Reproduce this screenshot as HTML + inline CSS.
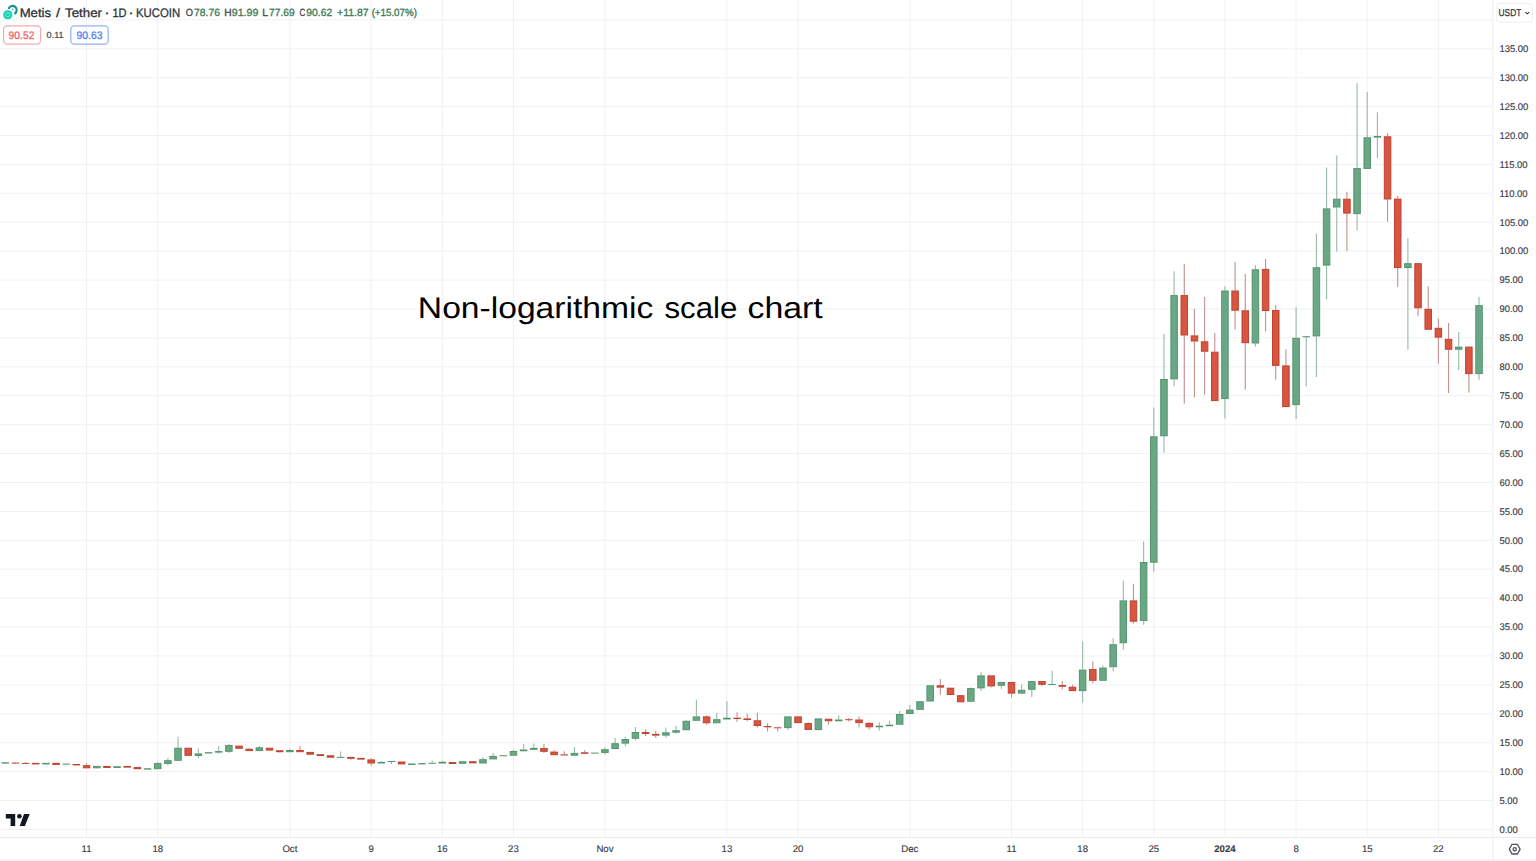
<!DOCTYPE html>
<html><head><meta charset="utf-8"><style>
html,body{margin:0;padding:0;background:#fff;}
body{width:1536px;height:861px;overflow:hidden;position:relative;font-family:"Liberation Sans",sans-serif;}
svg{position:absolute;left:0;top:0;}
</style></head><body>
<svg width="1536" height="861" viewBox="0 0 1536 861" font-family="Liberation Sans, sans-serif" text-rendering="geometricPrecision">
<path d="M0 829.40H1492M0 800.49H1492M0 771.58H1492M0 742.67H1492M0 713.76H1492M0 684.85H1492M0 655.93H1492M0 627.02H1492M0 598.11H1492M0 569.20H1492M0 540.29H1492M0 511.38H1492M0 482.47H1492M0 453.56H1492M0 424.65H1492M0 395.74H1492M0 366.82H1492M0 337.91H1492M0 309.00H1492M0 280.09H1492M0 251.18H1492M0 222.27H1492M0 193.36H1492M0 164.45H1492M0 135.54H1492M0 106.62H1492M0 77.71H1492M0 48.80H1492M0 19.89H1492M86.57 0V837M157.72 0V837M289.85 0V837M371.16 0V837M442.31 0V837M513.46 0V837M604.94 0V837M726.90 0V837M798.05 0V837M909.86 0V837M1011.50 0V837M1082.64 0V837M1153.79 0V837M1224.94 0V837M1296.09 0V837M1367.24 0V837M1438.38 0V837" stroke="#f0f1f3" stroke-width="1" fill="none"/>
<rect x="1492.3" y="0" width="1.1" height="861" fill="#eeeff1"/>
<rect x="0" y="837" width="1536" height="1" fill="#eaebed"/>
<rect x="0" y="859.3" width="1536" height="1.7" fill="#f2f3f7"/>
<path d="M5.26 761.90V762.30M5.26 763.60V764.00M157.72 761.70V763.10M167.88 757.90V760.20M167.88 763.90V765.40M178.05 736.80V747.70M198.38 748.50V753.40M198.38 756.00V757.90M218.70 746.10V751.10M218.70 752.60V753.75M228.87 743.75V745.10M228.87 751.80V753.10M259.36 746.10V747.30M289.85 749.00V750.00M340.67 751.40V756.90M381.33 761.00V762.00M391.49 761.80V763.90M432.15 760.40V762.80M442.31 760.70V761.80M482.97 757.30V759.20M493.13 753.10V755.90M513.46 749.80V751.00M523.62 744.00V749.50M533.79 743.50V747.90M574.44 746.90V752.90M604.94 747.20V749.20M604.94 752.90V754.80M615.10 737.90V743.20M625.26 736.70V739.00M625.26 743.60V746.25M635.43 727.10V732.00M635.43 738.75V740.30M665.92 727.50V732.30M665.92 735.60V737.50M676.08 725.70V730.20M676.08 732.70V733.75M686.25 720.00V720.80M696.41 699.70V716.40M716.74 712.90V719.20M726.90 701.25V717.70M787.89 728.10V729.90M838.71 715.30V719.50M879.36 722.30V725.70M879.36 727.30V730.40M889.53 720.80V724.70M899.69 711.10V714.00M909.86 705.10V709.60M970.84 687.40V688.10M981.00 672.30V675.40M981.00 688.40V691.00M1001.33 685.80V688.75M1021.66 684.60V689.80M1031.82 689.80V697.10M1052.15 670.70V684.00M1082.64 641.40V669.60M1082.64 691.10V702.60M1102.97 665.50V667.60M1113.14 638.30V644.25M1113.14 667.20V671.40M1123.30 580.50V600.40M1123.30 643.20V649.60M1143.63 541.40V562.00M1143.63 620.90V624.80M1153.79 407.60V436.30M1153.79 562.70V571.80M1163.96 334.00V379.00M1163.96 436.30V452.80M1174.12 271.20V295.10M1174.12 379.40V386.30M1224.94 286.20V290.50M1224.94 399.10V418.50M1255.43 265.20V269.30M1255.43 343.50V346.50M1296.09 307.30V337.80M1296.09 405.10V419.10M1306.25 337.00V386.20M1316.42 233.50V267.20M1316.42 336.40V377.00M1326.58 167.50V208.40M1326.58 265.60V299.20M1336.74 155.40V198.70M1336.74 207.50V251.70M1357.07 83.10V168.10M1357.07 214.10V230.20M1367.24 92.00V137.30M1377.40 112.30V136.00M1377.40 137.60V158.20M1407.89 238.30V263.20M1407.89 268.00V349.75M1458.71 332.00V346.60M1458.71 349.75V370.00M1479.04 296.80V305.10M1479.04 374.10V379.75" stroke="#98b9a6" stroke-width="1.1" fill="none"/>
<path d="M15.42 761.90V762.60M15.42 763.10V763.50M25.59 761.90V762.90M86.57 763.30V765.20M249.20 747.90V748.75M279.69 752.20V752.70M300.02 746.10V750.00M350.84 758.75V759.70M371.16 758.30V759.40M371.16 763.50V765.90M543.95 744.00V748.10M543.95 751.80V753.10M554.12 750.00V751.60M564.28 751.25V754.40M584.61 750.20V752.30M645.59 729.40V732.00M645.59 734.00V736.10M655.76 731.00V733.90M655.76 735.60V737.90M706.58 715.30V716.40M706.58 723.30V724.70M737.07 712.20V717.70M737.07 719.00V721.90M747.23 713.75V718.40M747.23 720.00V721.25M757.40 712.70V720.30M757.40 726.00V727.50M767.56 723.30V726.00M767.56 727.30V731.50M777.72 728.30V731.50M808.22 722.30V723.10M828.54 721.25V724.70M848.87 717.90V719.20M848.87 720.00V721.60M859.04 716.40V719.50M859.04 723.10V727.30M869.20 722.30V722.90M869.20 727.30V729.40M940.35 679.10V685.30M940.35 687.60V694.70M991.17 686.40V687.40M1011.50 693.60V697.50M1041.99 684.80V685.80M1062.32 681.10V685.00M1062.32 686.70V689.20M1072.48 684.80V686.70M1092.81 661.30V669.10M1092.81 680.80V683.60M1133.46 583.70V600.40M1133.46 621.70V623.70M1184.28 263.90V295.10M1184.28 335.50V403.50M1194.45 308.70V335.40M1194.45 341.50V397.20M1204.61 297.00V341.30M1204.61 351.70V394.80M1214.78 333.00V351.70M1235.10 261.90V290.50M1235.10 310.70V329.60M1245.27 273.90V310.30M1245.27 343.20V389.70M1265.60 259.10V268.90M1265.60 311.00V331.30M1275.76 305.30V310.00M1275.76 365.85V379.70M1285.92 349.20V365.40M1346.91 191.70V198.70M1346.91 213.60V251.10M1387.56 133.20V136.30M1387.56 199.50V221.80M1397.73 196.00V198.60M1397.73 268.00V287.00M1418.06 308.30V316.30M1428.22 286.30V308.80M1428.22 329.75V330.20M1438.38 318.80V327.80M1438.38 337.60V363.70M1448.55 322.90V338.80M1448.55 349.75V392.90M1468.88 374.10V392.40" stroke="#bf918f" stroke-width="1.1" fill="none"/>
<rect x="2.01" y="762.80" width="6.50" height="0.30" fill="#6aa885" stroke="#53946f" stroke-width="1"/>
<rect x="12.17" y="763.10" width="6.50" height="0.01" fill="#d9553f" stroke="#bd4230" stroke-width="1"/>
<rect x="22.34" y="763.40" width="6.50" height="0.01" fill="#d9553f" stroke="#bd4230" stroke-width="1"/>
<rect x="32.50" y="763.40" width="6.50" height="0.50" fill="#d9553f" stroke="#bd4230" stroke-width="1"/>
<rect x="42.67" y="763.40" width="6.50" height="0.50" fill="#6aa885" stroke="#53946f" stroke-width="1"/>
<rect x="52.83" y="763.40" width="6.50" height="1.00" fill="#d9553f" stroke="#bd4230" stroke-width="1"/>
<rect x="62.99" y="764.10" width="6.50" height="0.01" fill="#6aa885" stroke="#53946f" stroke-width="1"/>
<rect x="73.16" y="764.50" width="6.50" height="0.40" fill="#d9553f" stroke="#bd4230" stroke-width="1"/>
<rect x="83.32" y="765.70" width="6.50" height="2.10" fill="#d9553f" stroke="#bd4230" stroke-width="1"/>
<rect x="93.49" y="766.40" width="6.50" height="1.40" fill="#6aa885" stroke="#53946f" stroke-width="1"/>
<rect x="103.65" y="766.50" width="6.50" height="0.90" fill="#d9553f" stroke="#bd4230" stroke-width="1"/>
<rect x="113.81" y="766.75" width="6.50" height="0.65" fill="#6aa885" stroke="#53946f" stroke-width="1"/>
<rect x="123.98" y="766.50" width="6.50" height="0.60" fill="#d9553f" stroke="#bd4230" stroke-width="1"/>
<rect x="134.14" y="767.60" width="6.50" height="1.10" fill="#d9553f" stroke="#bd4230" stroke-width="1"/>
<rect x="144.31" y="768.80" width="6.50" height="0.30" fill="#6aa885" stroke="#53946f" stroke-width="1"/>
<rect x="154.47" y="763.60" width="6.50" height="5.10" fill="#6aa885" stroke="#53946f" stroke-width="1"/>
<rect x="164.63" y="760.70" width="6.50" height="2.70" fill="#6aa885" stroke="#53946f" stroke-width="1"/>
<rect x="174.80" y="748.20" width="6.50" height="12.10" fill="#6aa885" stroke="#53946f" stroke-width="1"/>
<rect x="184.96" y="748.20" width="6.50" height="7.10" fill="#d9553f" stroke="#bd4230" stroke-width="1"/>
<rect x="195.13" y="753.90" width="6.50" height="1.60" fill="#6aa885" stroke="#53946f" stroke-width="1"/>
<rect x="205.29" y="752.70" width="6.50" height="0.30" fill="#6aa885" stroke="#53946f" stroke-width="1"/>
<rect x="215.45" y="751.60" width="6.50" height="0.50" fill="#6aa885" stroke="#53946f" stroke-width="1"/>
<rect x="225.62" y="745.60" width="6.50" height="5.70" fill="#6aa885" stroke="#53946f" stroke-width="1"/>
<rect x="235.78" y="746.10" width="6.50" height="2.15" fill="#d9553f" stroke="#bd4230" stroke-width="1"/>
<rect x="245.95" y="749.25" width="6.50" height="1.35" fill="#d9553f" stroke="#bd4230" stroke-width="1"/>
<rect x="256.11" y="747.80" width="6.50" height="2.80" fill="#6aa885" stroke="#53946f" stroke-width="1"/>
<rect x="266.27" y="748.20" width="6.50" height="1.90" fill="#d9553f" stroke="#bd4230" stroke-width="1"/>
<rect x="276.44" y="750.80" width="6.50" height="0.90" fill="#d9553f" stroke="#bd4230" stroke-width="1"/>
<rect x="286.60" y="750.50" width="6.50" height="1.20" fill="#6aa885" stroke="#53946f" stroke-width="1"/>
<rect x="296.77" y="750.50" width="6.50" height="1.20" fill="#d9553f" stroke="#bd4230" stroke-width="1"/>
<rect x="306.93" y="752.40" width="6.50" height="1.80" fill="#d9553f" stroke="#bd4230" stroke-width="1"/>
<rect x="317.09" y="754.70" width="6.50" height="0.80" fill="#d9553f" stroke="#bd4230" stroke-width="1"/>
<rect x="327.26" y="755.80" width="6.50" height="1.40" fill="#d9553f" stroke="#bd4230" stroke-width="1"/>
<rect x="337.42" y="757.40" width="6.50" height="0.01" fill="#6aa885" stroke="#53946f" stroke-width="1"/>
<rect x="347.59" y="757.40" width="6.50" height="0.85" fill="#d9553f" stroke="#bd4230" stroke-width="1"/>
<rect x="357.75" y="758.40" width="6.50" height="0.70" fill="#d9553f" stroke="#bd4230" stroke-width="1"/>
<rect x="367.91" y="759.90" width="6.50" height="3.10" fill="#d9553f" stroke="#bd4230" stroke-width="1"/>
<rect x="378.08" y="762.50" width="6.50" height="0.50" fill="#6aa885" stroke="#53946f" stroke-width="1"/>
<rect x="388.24" y="761.50" width="6.50" height="0.01" fill="#6aa885" stroke="#53946f" stroke-width="1"/>
<rect x="398.41" y="762.00" width="6.50" height="1.90" fill="#d9553f" stroke="#bd4230" stroke-width="1"/>
<rect x="408.57" y="764.00" width="6.50" height="0.40" fill="#6aa885" stroke="#53946f" stroke-width="1"/>
<rect x="418.73" y="763.60" width="6.50" height="0.30" fill="#6aa885" stroke="#53946f" stroke-width="1"/>
<rect x="428.90" y="763.30" width="6.50" height="0.01" fill="#6aa885" stroke="#53946f" stroke-width="1"/>
<rect x="439.06" y="762.30" width="6.50" height="0.70" fill="#6aa885" stroke="#53946f" stroke-width="1"/>
<rect x="449.23" y="762.60" width="6.50" height="0.90" fill="#d9553f" stroke="#bd4230" stroke-width="1"/>
<rect x="459.39" y="761.75" width="6.50" height="1.50" fill="#6aa885" stroke="#53946f" stroke-width="1"/>
<rect x="469.55" y="761.75" width="6.50" height="1.05" fill="#d9553f" stroke="#bd4230" stroke-width="1"/>
<rect x="479.72" y="759.70" width="6.50" height="3.30" fill="#6aa885" stroke="#53946f" stroke-width="1"/>
<rect x="489.88" y="756.40" width="6.50" height="2.50" fill="#6aa885" stroke="#53946f" stroke-width="1"/>
<rect x="500.05" y="755.70" width="6.50" height="0.05" fill="#6aa885" stroke="#53946f" stroke-width="1"/>
<rect x="510.21" y="751.50" width="6.50" height="3.70" fill="#6aa885" stroke="#53946f" stroke-width="1"/>
<rect x="520.37" y="750.00" width="6.50" height="0.75" fill="#6aa885" stroke="#53946f" stroke-width="1"/>
<rect x="530.54" y="748.40" width="6.50" height="0.90" fill="#6aa885" stroke="#53946f" stroke-width="1"/>
<rect x="540.70" y="748.60" width="6.50" height="2.70" fill="#d9553f" stroke="#bd4230" stroke-width="1"/>
<rect x="550.87" y="752.10" width="6.50" height="2.60" fill="#d9553f" stroke="#bd4230" stroke-width="1"/>
<rect x="561.03" y="754.90" width="6.50" height="0.10" fill="#d9553f" stroke="#bd4230" stroke-width="1"/>
<rect x="571.19" y="753.40" width="6.50" height="1.80" fill="#6aa885" stroke="#53946f" stroke-width="1"/>
<rect x="581.36" y="752.80" width="6.50" height="0.45" fill="#d9553f" stroke="#bd4230" stroke-width="1"/>
<rect x="591.52" y="753.10" width="6.50" height="0.01" fill="#6aa885" stroke="#53946f" stroke-width="1"/>
<rect x="601.69" y="749.70" width="6.50" height="2.70" fill="#6aa885" stroke="#53946f" stroke-width="1"/>
<rect x="611.85" y="743.70" width="6.50" height="4.80" fill="#6aa885" stroke="#53946f" stroke-width="1"/>
<rect x="622.01" y="739.50" width="6.50" height="3.60" fill="#6aa885" stroke="#53946f" stroke-width="1"/>
<rect x="632.18" y="732.50" width="6.50" height="5.75" fill="#6aa885" stroke="#53946f" stroke-width="1"/>
<rect x="642.34" y="732.50" width="6.50" height="1.00" fill="#d9553f" stroke="#bd4230" stroke-width="1"/>
<rect x="652.51" y="734.40" width="6.50" height="0.70" fill="#d9553f" stroke="#bd4230" stroke-width="1"/>
<rect x="662.67" y="732.80" width="6.50" height="2.30" fill="#6aa885" stroke="#53946f" stroke-width="1"/>
<rect x="672.83" y="730.70" width="6.50" height="1.50" fill="#6aa885" stroke="#53946f" stroke-width="1"/>
<rect x="683.00" y="721.30" width="6.50" height="8.40" fill="#6aa885" stroke="#53946f" stroke-width="1"/>
<rect x="693.16" y="716.90" width="6.50" height="3.40" fill="#6aa885" stroke="#53946f" stroke-width="1"/>
<rect x="703.33" y="716.90" width="6.50" height="5.90" fill="#d9553f" stroke="#bd4230" stroke-width="1"/>
<rect x="713.49" y="719.70" width="6.50" height="3.10" fill="#6aa885" stroke="#53946f" stroke-width="1"/>
<rect x="723.65" y="718.20" width="6.50" height="0.80" fill="#6aa885" stroke="#53946f" stroke-width="1"/>
<rect x="733.82" y="718.20" width="6.50" height="0.30" fill="#d9553f" stroke="#bd4230" stroke-width="1"/>
<rect x="743.98" y="718.90" width="6.50" height="0.60" fill="#d9553f" stroke="#bd4230" stroke-width="1"/>
<rect x="754.15" y="720.80" width="6.50" height="4.70" fill="#d9553f" stroke="#bd4230" stroke-width="1"/>
<rect x="764.31" y="726.50" width="6.50" height="0.30" fill="#d9553f" stroke="#bd4230" stroke-width="1"/>
<rect x="774.47" y="727.80" width="6.50" height="0.01" fill="#d9553f" stroke="#bd4230" stroke-width="1"/>
<rect x="784.64" y="716.90" width="6.50" height="10.70" fill="#6aa885" stroke="#53946f" stroke-width="1"/>
<rect x="794.80" y="716.90" width="6.50" height="5.70" fill="#d9553f" stroke="#bd4230" stroke-width="1"/>
<rect x="804.97" y="723.60" width="6.50" height="5.80" fill="#d9553f" stroke="#bd4230" stroke-width="1"/>
<rect x="815.13" y="718.90" width="6.50" height="10.70" fill="#6aa885" stroke="#53946f" stroke-width="1"/>
<rect x="825.29" y="719.25" width="6.50" height="1.50" fill="#d9553f" stroke="#bd4230" stroke-width="1"/>
<rect x="835.46" y="720.00" width="6.50" height="0.75" fill="#6aa885" stroke="#53946f" stroke-width="1"/>
<rect x="845.62" y="719.70" width="6.50" height="0.01" fill="#d9553f" stroke="#bd4230" stroke-width="1"/>
<rect x="855.79" y="720.00" width="6.50" height="2.60" fill="#d9553f" stroke="#bd4230" stroke-width="1"/>
<rect x="865.95" y="723.40" width="6.50" height="3.40" fill="#d9553f" stroke="#bd4230" stroke-width="1"/>
<rect x="876.11" y="726.20" width="6.50" height="0.60" fill="#6aa885" stroke="#53946f" stroke-width="1"/>
<rect x="886.28" y="725.20" width="6.50" height="0.55" fill="#6aa885" stroke="#53946f" stroke-width="1"/>
<rect x="896.44" y="714.50" width="6.50" height="9.70" fill="#6aa885" stroke="#53946f" stroke-width="1"/>
<rect x="906.61" y="710.10" width="6.50" height="3.40" fill="#6aa885" stroke="#53946f" stroke-width="1"/>
<rect x="916.77" y="701.75" width="6.50" height="7.55" fill="#6aa885" stroke="#53946f" stroke-width="1"/>
<rect x="926.93" y="685.80" width="6.50" height="15.20" fill="#6aa885" stroke="#53946f" stroke-width="1"/>
<rect x="937.10" y="685.80" width="6.50" height="1.30" fill="#d9553f" stroke="#bd4230" stroke-width="1"/>
<rect x="947.26" y="688.20" width="6.50" height="6.30" fill="#d9553f" stroke="#bd4230" stroke-width="1"/>
<rect x="957.43" y="695.70" width="6.50" height="6.10" fill="#d9553f" stroke="#bd4230" stroke-width="1"/>
<rect x="967.59" y="688.60" width="6.50" height="12.60" fill="#6aa885" stroke="#53946f" stroke-width="1"/>
<rect x="977.75" y="675.90" width="6.50" height="12.00" fill="#6aa885" stroke="#53946f" stroke-width="1"/>
<rect x="987.92" y="675.90" width="6.50" height="10.00" fill="#d9553f" stroke="#bd4230" stroke-width="1"/>
<rect x="998.08" y="682.50" width="6.50" height="2.80" fill="#6aa885" stroke="#53946f" stroke-width="1"/>
<rect x="1008.25" y="682.50" width="6.50" height="10.60" fill="#d9553f" stroke="#bd4230" stroke-width="1"/>
<rect x="1018.41" y="690.30" width="6.50" height="2.80" fill="#6aa885" stroke="#53946f" stroke-width="1"/>
<rect x="1028.57" y="681.60" width="6.50" height="7.70" fill="#6aa885" stroke="#53946f" stroke-width="1"/>
<rect x="1038.74" y="681.60" width="6.50" height="2.70" fill="#d9553f" stroke="#bd4230" stroke-width="1"/>
<rect x="1048.90" y="684.50" width="6.50" height="0.01" fill="#6aa885" stroke="#53946f" stroke-width="1"/>
<rect x="1059.07" y="685.50" width="6.50" height="0.70" fill="#d9553f" stroke="#bd4230" stroke-width="1"/>
<rect x="1069.23" y="687.20" width="6.50" height="3.40" fill="#d9553f" stroke="#bd4230" stroke-width="1"/>
<rect x="1079.39" y="670.10" width="6.50" height="20.50" fill="#6aa885" stroke="#53946f" stroke-width="1"/>
<rect x="1089.56" y="669.60" width="6.50" height="10.70" fill="#d9553f" stroke="#bd4230" stroke-width="1"/>
<rect x="1099.72" y="668.10" width="6.50" height="12.20" fill="#6aa885" stroke="#53946f" stroke-width="1"/>
<rect x="1109.89" y="644.75" width="6.50" height="21.95" fill="#6aa885" stroke="#53946f" stroke-width="1"/>
<rect x="1120.05" y="600.90" width="6.50" height="41.80" fill="#6aa885" stroke="#53946f" stroke-width="1"/>
<rect x="1130.21" y="600.90" width="6.50" height="20.30" fill="#d9553f" stroke="#bd4230" stroke-width="1"/>
<rect x="1140.38" y="562.50" width="6.50" height="57.90" fill="#6aa885" stroke="#53946f" stroke-width="1"/>
<rect x="1150.54" y="436.80" width="6.50" height="125.40" fill="#6aa885" stroke="#53946f" stroke-width="1"/>
<rect x="1160.71" y="379.50" width="6.50" height="56.30" fill="#6aa885" stroke="#53946f" stroke-width="1"/>
<rect x="1170.87" y="295.60" width="6.50" height="83.30" fill="#6aa885" stroke="#53946f" stroke-width="1"/>
<rect x="1181.03" y="295.60" width="6.50" height="39.40" fill="#d9553f" stroke="#bd4230" stroke-width="1"/>
<rect x="1191.20" y="335.90" width="6.50" height="5.10" fill="#d9553f" stroke="#bd4230" stroke-width="1"/>
<rect x="1201.36" y="341.80" width="6.50" height="9.40" fill="#d9553f" stroke="#bd4230" stroke-width="1"/>
<rect x="1211.53" y="352.20" width="6.50" height="48.40" fill="#d9553f" stroke="#bd4230" stroke-width="1"/>
<rect x="1221.69" y="291.00" width="6.50" height="107.60" fill="#6aa885" stroke="#53946f" stroke-width="1"/>
<rect x="1231.85" y="291.00" width="6.50" height="19.20" fill="#d9553f" stroke="#bd4230" stroke-width="1"/>
<rect x="1242.02" y="310.80" width="6.50" height="31.90" fill="#d9553f" stroke="#bd4230" stroke-width="1"/>
<rect x="1252.18" y="269.80" width="6.50" height="73.20" fill="#6aa885" stroke="#53946f" stroke-width="1"/>
<rect x="1262.35" y="269.40" width="6.50" height="41.10" fill="#d9553f" stroke="#bd4230" stroke-width="1"/>
<rect x="1272.51" y="310.50" width="6.50" height="54.85" fill="#d9553f" stroke="#bd4230" stroke-width="1"/>
<rect x="1282.67" y="365.90" width="6.50" height="40.70" fill="#d9553f" stroke="#bd4230" stroke-width="1"/>
<rect x="1292.84" y="338.30" width="6.50" height="66.30" fill="#6aa885" stroke="#53946f" stroke-width="1"/>
<rect x="1303.00" y="336.70" width="6.50" height="0.01" fill="#6aa885" stroke="#53946f" stroke-width="1"/>
<rect x="1313.17" y="267.70" width="6.50" height="68.20" fill="#6aa885" stroke="#53946f" stroke-width="1"/>
<rect x="1323.33" y="208.90" width="6.50" height="56.20" fill="#6aa885" stroke="#53946f" stroke-width="1"/>
<rect x="1333.49" y="199.20" width="6.50" height="7.80" fill="#6aa885" stroke="#53946f" stroke-width="1"/>
<rect x="1343.66" y="199.20" width="6.50" height="13.90" fill="#d9553f" stroke="#bd4230" stroke-width="1"/>
<rect x="1353.82" y="168.60" width="6.50" height="45.00" fill="#6aa885" stroke="#53946f" stroke-width="1"/>
<rect x="1363.99" y="137.80" width="6.50" height="30.60" fill="#6aa885" stroke="#53946f" stroke-width="1"/>
<rect x="1374.15" y="136.50" width="6.50" height="0.60" fill="#6aa885" stroke="#53946f" stroke-width="1"/>
<rect x="1384.31" y="136.80" width="6.50" height="62.20" fill="#d9553f" stroke="#bd4230" stroke-width="1"/>
<rect x="1394.48" y="199.10" width="6.50" height="68.40" fill="#d9553f" stroke="#bd4230" stroke-width="1"/>
<rect x="1404.64" y="263.70" width="6.50" height="3.80" fill="#6aa885" stroke="#53946f" stroke-width="1"/>
<rect x="1414.81" y="263.70" width="6.50" height="44.10" fill="#d9553f" stroke="#bd4230" stroke-width="1"/>
<rect x="1424.97" y="309.30" width="6.50" height="19.95" fill="#d9553f" stroke="#bd4230" stroke-width="1"/>
<rect x="1435.13" y="328.30" width="6.50" height="8.80" fill="#d9553f" stroke="#bd4230" stroke-width="1"/>
<rect x="1445.30" y="339.30" width="6.50" height="9.95" fill="#d9553f" stroke="#bd4230" stroke-width="1"/>
<rect x="1455.46" y="347.10" width="6.50" height="2.15" fill="#6aa885" stroke="#53946f" stroke-width="1"/>
<rect x="1465.63" y="347.10" width="6.50" height="26.50" fill="#d9553f" stroke="#bd4230" stroke-width="1"/>
<rect x="1475.79" y="305.60" width="6.50" height="68.00" fill="#6aa885" stroke="#53946f" stroke-width="1"/>
<g font-size="9.7px" fill="#3a3d46" stroke="#3a3d46" stroke-width="0.15">
<text x="1499.41" y="832.65" textLength="18.34" lengthAdjust="spacingAndGlyphs">0.00</text>
<text x="1499.41" y="803.74" textLength="18.34" lengthAdjust="spacingAndGlyphs">5.00</text>
<text x="1499.41" y="774.83" textLength="23.58" lengthAdjust="spacingAndGlyphs">10.00</text>
<text x="1499.41" y="745.92" textLength="23.58" lengthAdjust="spacingAndGlyphs">15.00</text>
<text x="1499.41" y="717.01" textLength="23.58" lengthAdjust="spacingAndGlyphs">20.00</text>
<text x="1499.41" y="688.10" textLength="23.58" lengthAdjust="spacingAndGlyphs">25.00</text>
<text x="1499.41" y="659.18" textLength="23.58" lengthAdjust="spacingAndGlyphs">30.00</text>
<text x="1499.41" y="630.27" textLength="23.58" lengthAdjust="spacingAndGlyphs">35.00</text>
<text x="1499.41" y="601.36" textLength="23.58" lengthAdjust="spacingAndGlyphs">40.00</text>
<text x="1499.41" y="572.45" textLength="23.58" lengthAdjust="spacingAndGlyphs">45.00</text>
<text x="1499.41" y="543.54" textLength="23.58" lengthAdjust="spacingAndGlyphs">50.00</text>
<text x="1499.41" y="514.63" textLength="23.58" lengthAdjust="spacingAndGlyphs">55.00</text>
<text x="1499.41" y="485.72" textLength="23.58" lengthAdjust="spacingAndGlyphs">60.00</text>
<text x="1499.41" y="456.81" textLength="23.58" lengthAdjust="spacingAndGlyphs">65.00</text>
<text x="1499.41" y="427.90" textLength="23.58" lengthAdjust="spacingAndGlyphs">70.00</text>
<text x="1499.41" y="398.99" textLength="23.58" lengthAdjust="spacingAndGlyphs">75.00</text>
<text x="1499.41" y="370.07" textLength="23.58" lengthAdjust="spacingAndGlyphs">80.00</text>
<text x="1499.41" y="341.16" textLength="23.58" lengthAdjust="spacingAndGlyphs">85.00</text>
<text x="1499.41" y="312.25" textLength="23.58" lengthAdjust="spacingAndGlyphs">90.00</text>
<text x="1499.41" y="283.34" textLength="23.58" lengthAdjust="spacingAndGlyphs">95.00</text>
<text x="1499.41" y="254.43" textLength="28.82" lengthAdjust="spacingAndGlyphs">100.00</text>
<text x="1499.41" y="225.52" textLength="28.82" lengthAdjust="spacingAndGlyphs">105.00</text>
<text x="1499.41" y="196.61" textLength="28.12" lengthAdjust="spacingAndGlyphs">110.00</text>
<text x="1499.41" y="167.70" textLength="28.12" lengthAdjust="spacingAndGlyphs">115.00</text>
<text x="1499.41" y="138.79" textLength="28.82" lengthAdjust="spacingAndGlyphs">120.00</text>
<text x="1499.41" y="109.88" textLength="28.82" lengthAdjust="spacingAndGlyphs">125.00</text>
<text x="1499.41" y="80.96" textLength="28.82" lengthAdjust="spacingAndGlyphs">130.00</text>
<text x="1499.41" y="52.05" textLength="28.82" lengthAdjust="spacingAndGlyphs">135.00</text>
</g>
<g font-size="9.6px" fill="#3a3d46" stroke="#3a3d46" stroke-width="0.15" text-anchor="middle">
<text x="86.57" y="851.9">11</text>
<text x="157.72" y="851.9">18</text>
<text x="289.85" y="851.9">Oct</text>
<text x="371.16" y="851.9">9</text>
<text x="442.31" y="851.9">16</text>
<text x="513.46" y="851.9">23</text>
<text x="604.94" y="851.9">Nov</text>
<text x="726.90" y="851.9">13</text>
<text x="798.05" y="851.9">20</text>
<text x="909.86" y="851.9">Dec</text>
<text x="1011.50" y="851.9">11</text>
<text x="1082.64" y="851.9">18</text>
<text x="1153.79" y="851.9">25</text>
<text x="1224.94" y="851.9" font-weight="bold">2024</text>
<text x="1296.09" y="851.9">8</text>
<text x="1367.24" y="851.9">15</text>
<text x="1438.38" y="851.9">22</text>
</g>
<g fill="#131722">
<path d="M5.8 813.9H15.2V825.9H10.6V818.4H5.8Z"/>
<circle cx="19.4" cy="816.3" r="2.3"/>
<path d="M24 814.1H29.7L24.9 825.9H19.7Z"/>
</g>
<g fill="none" stroke="#50535e" stroke-width="1.3">
<path d="M1512 844.3H1517.4L1520.1 849.15L1517.4 854H1512L1509.3 849.15Z"/>
<circle cx="1514.7" cy="849.15" r="1.6"/>
</g>
<rect x="1496.8" y="3.5" width="35.7" height="18.6" rx="2.5" fill="#fff" stroke="#eceef2" stroke-width="1"/>
<path d="M1525.3 12.1L1527.25 13.8L1529.2 12.1" stroke="#2f323b" stroke-width="1.05" fill="none"/>
<path d="M8.9 8.2A4.1 4.1 0 1 1 15.0 13.3" fill="none" stroke="#12908a" stroke-width="2.1" stroke-linecap="round"/>
<circle cx="12.7" cy="9.3" r="0.9" fill="#5fb8ae"/>
<circle cx="7.8" cy="14.8" r="5.0" fill="#16d0b8" stroke="#fff" stroke-width="0.7"/>
<circle cx="7.8" cy="14.8" r="2.2" fill="none" stroke="#9ae9dc" stroke-width="0.8"/>
<rect x="3.6" y="25.9" width="37" height="18.1" rx="3.5" fill="none" stroke="#f7a9ae" stroke-width="1.25"/>
<rect x="70.8" y="25.9" width="37.4" height="18.1" rx="3.5" fill="none" stroke="#94b3fb" stroke-width="1.25"/>
<text x="19.67" y="16.85" font-size="12.4px" fill="#2f323b" textLength="31.44" lengthAdjust="spacingAndGlyphs" stroke="#2f323b" stroke-width="0.3">Metis</text>
<text x="55.90" y="16.85" font-size="12.4px" fill="#2f323b" textLength="4.05" lengthAdjust="spacingAndGlyphs" stroke="#2f323b" stroke-width="0.3">/</text>
<text x="64.99" y="16.85" font-size="12.4px" fill="#2f323b" textLength="36.97" lengthAdjust="spacingAndGlyphs" stroke="#2f323b" stroke-width="0.3">Tether</text>
<text x="112.41" y="16.85" font-size="12.4px" fill="#2f323b" textLength="14.07" lengthAdjust="spacingAndGlyphs" stroke="#2f323b" stroke-width="0.3">1D</text>
<text x="135.91" y="16.85" font-size="12.4px" fill="#2f323b" textLength="44.22" lengthAdjust="spacingAndGlyphs" stroke="#2f323b" stroke-width="0.3">KUCOIN</text>
<circle cx="107.1" cy="13.4" r="1.05" fill="#2f323b"/><circle cx="131.1" cy="13.4" r="1.05" fill="#2f323b"/>
<text x="185.66" y="16.15" font-size="10.4px" fill="#474a54" textLength="7.24" lengthAdjust="spacingAndGlyphs" stroke="#474a54" stroke-width="0.35">O</text>
<text x="194.11" y="16.15" font-size="10.4px" fill="#3f7d59" textLength="25.90" lengthAdjust="spacingAndGlyphs" stroke="#3f7d59" stroke-width="0.35">78.76</text>
<text x="224.25" y="16.15" font-size="10.4px" fill="#474a54" textLength="7.38" lengthAdjust="spacingAndGlyphs" stroke="#474a54" stroke-width="0.35">H</text>
<text x="231.80" y="16.15" font-size="10.4px" fill="#3f7d59" textLength="26.53" lengthAdjust="spacingAndGlyphs" stroke="#3f7d59" stroke-width="0.35">91.99</text>
<text x="262.29" y="16.15" font-size="10.4px" fill="#474a54" textLength="5.77" lengthAdjust="spacingAndGlyphs" stroke="#474a54" stroke-width="0.35">L</text>
<text x="269.12" y="16.15" font-size="10.4px" fill="#3f7d59" textLength="25.59" lengthAdjust="spacingAndGlyphs" stroke="#3f7d59" stroke-width="0.35">77.69</text>
<text x="299.42" y="16.15" font-size="10.4px" fill="#474a54" textLength="5.86" lengthAdjust="spacingAndGlyphs" stroke="#474a54" stroke-width="0.35">C</text>
<text x="306.31" y="16.15" font-size="10.4px" fill="#3f7d59" textLength="25.90" lengthAdjust="spacingAndGlyphs" stroke="#3f7d59" stroke-width="0.35">90.62</text>
<text x="337.11" y="16.15" font-size="10.4px" fill="#3f7d59" textLength="31.41" lengthAdjust="spacingAndGlyphs" stroke="#3f7d59" stroke-width="0.35">+11.87</text>
<text x="371.64" y="16.15" font-size="10.4px" fill="#3f7d59" textLength="45.26" lengthAdjust="spacingAndGlyphs" stroke="#3f7d59" stroke-width="0.35">(+15.07%)</text>
<text x="8.51" y="38.70" font-size="10.9px" fill="#ef5d69" textLength="25.90" lengthAdjust="spacingAndGlyphs" stroke="#ef5d69" stroke-width="0.25">90.52</text>
<text x="46.62" y="37.90" font-size="8.8px" fill="#464952" textLength="17.05" lengthAdjust="spacingAndGlyphs" stroke="#464952" stroke-width="0.2">0.11</text>
<text x="76.51" y="38.70" font-size="10.9px" fill="#4b7cf3" textLength="25.90" lengthAdjust="spacingAndGlyphs" stroke="#4b7cf3" stroke-width="0.25">90.63</text>
<text x="417.87" y="318.00" font-size="29.9px" fill="#000" textLength="235.45" lengthAdjust="spacingAndGlyphs">Non-logarithmic</text>
<text x="664.51" y="318.00" font-size="29.9px" fill="#000" textLength="72.85" lengthAdjust="spacingAndGlyphs">scale</text>
<text x="747.44" y="318.00" font-size="29.9px" fill="#000" textLength="75.34" lengthAdjust="spacingAndGlyphs">chart</text>
<text x="1498.58" y="16.00" font-size="9.9px" fill="#2f323b" textLength="22.77" lengthAdjust="spacingAndGlyphs" stroke="#2f323b" stroke-width="0.25">USDT</text>
</svg>
</body></html>
